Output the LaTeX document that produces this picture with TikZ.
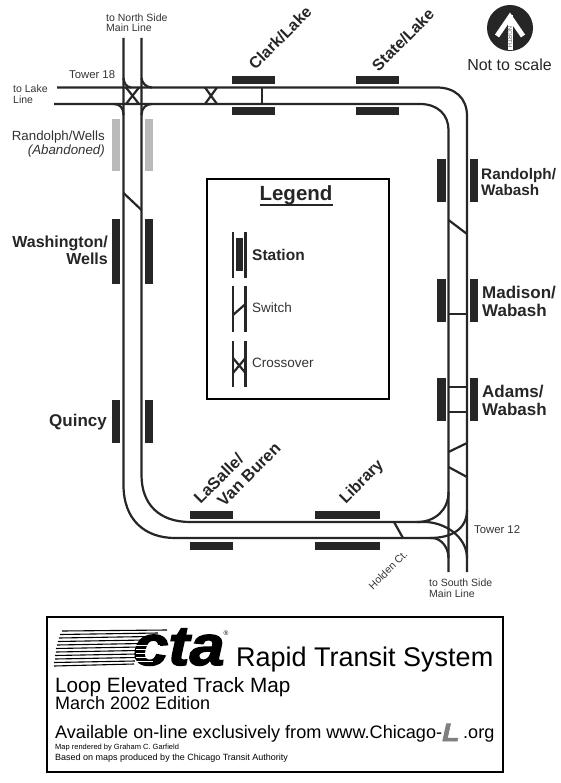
\documentclass[tikz,border=0pt]{standalone}
\usepackage{fontspec}
\setmainfont{Liberation Sans}
\newfontfamily\ctafont[FakeBold=2.5, FakeStretch=1.13]{Liberation Sans Bold Italic}
\tikzset{
  track/.style={line width=2.2pt, black!85},
  frame/.style={draw=black, line width=2pt},
  stationh/.style={fill=black!85, minimum width=43pt, minimum height=8pt, inner sep=0pt},
  stationv/.style={fill=black!85, minimum width=8.5pt, minimum height=43pt, inner sep=0pt},
  abandoned/.style={fill=black!27, minimum width=8.5pt, minimum height=52pt, inner sep=0pt},
  stopname/.style={font=\fontsize{16}{18}\selectfont\bfseries, text=black!85, inner sep=0pt, align=left},
  slanted/.style={stopname, rotate=45, align=center},
  smalltext/.style={font=\fontsize{10.5}{10.5}\selectfont, text=black!80, inner sep=0pt, align=left},
  towertext/.style={smalltext, font=\fontsize{11.3}{12}\selectfont, anchor=west}
}
\begin{document}
\begin{tikzpicture}[x=1pt, y=-1pt]
  \useasboundingbox (0,0) rectangle (561,783);

  % Vias del Loop
  \draw[track] (123.5,38) -- (123.5,485) .. controls (123.5,520) and (145,538) .. (175,538) -- (433,538);
  \draw[track] (141.5,38) -- (141.5,475) .. controls (141.5,505) and (160,522) .. (190,522) -- (427,522);
  \draw[track] (54,104) -- (420,104) .. controls (438,104) and (448.5,115) .. (448.5,130) -- (448.5,572);
  \draw[track] (57,87.5) -- (437,87.5) .. controls (455,87.5) and (467,98) .. (467,116) -- (467,572);

  % Torre 18
  \draw[track] (123.5,78) .. controls (124,83) and (126,87) .. (131,87.5);
  \draw[track] (141.5,78) .. controls (142,83) and (146,87.5) .. (152,87.5);
  \draw[track] (114,104) .. controls (120,104) and (123.5,108) .. (123.5,115);
  \draw[track] (152,104) .. controls (146,104) and (141.5,108) .. (141.5,115);
  \draw[track] (126,104) -- (139,87.5);
  \draw[track] (126,87.5) -- (139,104);

  % Torre 12
  \draw[track] (417,522) .. controls (435,522) and (448.5,510) .. (448.5,492);
  \draw[track] (427,522) .. controls (450,524) and (467,540) .. (467,558);
  \draw[track] (430,538) .. controls (450,538) and (467,530) .. (467,510);
  \draw[track] (433,538) .. controls (442,539) and (448.5,548) .. (448.5,558);

  % Cambios y cruces
  \draw[track] (205,87.5) -- (217,104);
  \draw[track] (217,87.5) -- (205,104);
  \draw[track] (262,87.5) -- (262,104);
  \draw[track] (123.5,193) -- (141.5,210);
  \draw[track] (448.5,220) -- (467,234);
  \draw[track] (448.5,314) -- (467,314);
  \draw[track] (448.5,387) -- (467,387);
  \draw[track] (448.5,412) -- (467,412);
  \draw[track] (448.5,452) -- (467,443);
  \draw[track] (448.5,467) -- (467,477);
  \draw[track] (394,522) -- (403,538);

  % Estaciones
  \node[stationh] (clarkN) at (253.5,80) {};
  \node[stationh] (clarkS) at (253.5,111) {};
  \node[stationh] (stateN) at (377,80) {};
  \node[stationh] (stateS) at (377,111) {};
  \node[abandoned] (randolphW) at (116,145) {};
  \node[abandoned] (randolphE) at (149,145) {};
  \node[stationv, minimum height=65pt] (washingtonW) at (116,251.5) {};
  \node[stationv, minimum height=65pt] (washingtonE) at (149,251.5) {};
  \node[stationv] (quincyW) at (116,421) {};
  \node[stationv] (quincyE) at (149,421) {};
  \node[stationh] (lasalleN) at (211.5,515) {};
  \node[stationh] (lasalleS) at (211.5,546) {};
  \node[stationh, minimum width=65pt] (libraryN) at (347.5,515) {};
  \node[stationh, minimum width=65pt] (libraryS) at (347.5,546) {};
  \node[stationv] (adamsW) at (441.5,399.5) {};
  \node[stationv] (adamsE) at (474,399.5) {};
  \node[stationv] (madisonW) at (441.5,300.5) {};
  \node[stationv] (madisonE) at (474,300.5) {};
  \node[stationv] (wabashW) at (441.5,181) {};
  \node[stationv] (wabashE) at (474,181) {};

  % Nombres
  \node[slanted] (clarkname) at (280,38) {Clark/Lake};
  \node[slanted] (statename) at (403,40) {State/Lake};
  \node[slanted, align=left, font=\fontsize{16.5}{18.4}\selectfont\bfseries] (lasallename) at (237,473) {LaSalle/\\\hspace*{15pt}Van Buren};
  \node[slanted] (libraryname) at (362,482) {Library};
  \node[stopname, anchor=east, align=right, font=\fontsize{16}{17}\selectfont\bfseries] (washingtonname) at (108,250) {Washington/\\Wells};
  \node[stopname, anchor=base east, font=\fontsize{17}{18}\selectfont\bfseries] (quincyname) at (107,426) {Quincy};
  \node[stopname, anchor=west, font=\fontsize{15.3}{15.5}\selectfont\bfseries] (wabashname) at (481,182) {Randolph/\\Wabash};
  \node[stopname, anchor=west, font=\fontsize{17}{18}\selectfont\bfseries] (madisonname) at (482,301) {Madison/\\Wabash};
  \node[stopname, anchor=west, font=\fontsize{17}{18}\selectfont\bfseries] (adamsname) at (482,400) {Adams/\\Wabash};
  \node[smalltext, font=\fontsize{13.3}{14.5}\selectfont, align=right, anchor=east] (abandonedname) at (105,144) {Randolph/Wells\\\textit{(Abandoned)}};

  % Rotulos pequenos
  \node[smalltext, anchor=west] (northlabel) at (106,23) {to North Side\\Main Line};
  \node[smalltext, anchor=west, font=\fontsize{10.5}{11.5}\selectfont] (lakelabel) at (13,94) {to Lake\\Line};
  \node[towertext] (tower18) at (69,75) {Tower 18};
  \node[towertext] (tower12) at (474,530) {Tower 12};
  \node[smalltext, anchor=west] (southlabel) at (429,588) {to South Side\\Main Line};
  \node[smalltext, rotate=45] (holden) at (388,570) {Holden Ct.};

  % Norte
  \node[circle, fill=black!85, minimum size=46pt, inner sep=0pt] (compass) at (510,28) {};
  \draw[white, line width=5pt] (497,36) -- (510,17) -- (523,36);
  \draw[white, line width=5pt] (510,15) -- (510,50.5);
  \node[rotate=-90, font=\fontsize{6}{6}\selectfont, text=black!60, inner sep=0pt] (northword) at (510,37) {NORTH};
  \node[font=\fontsize{16}{17}\selectfont, text=black!85, inner sep=0pt] (scale) at (509.5,65) {Not to scale};

  % Leyenda
  \node[frame, minimum width=182pt, minimum height=220pt, inner sep=0pt] (legend) at (298,289) {};
  \node[font=\fontsize{20.5}{22}\selectfont\bfseries, text=black!85, inner sep=0pt] (legendtitle) at (296,195) {Legend};
  \draw[black!85, line width=1.5pt] (259.5,205) -- (332.5,205);
  \draw[track] (233,232) -- (233,278);
  \draw[track] (245.5,232) -- (245.5,278);
  \node[fill=black!85, minimum width=7.5pt, minimum height=33pt, inner sep=0pt] (legendstation) at (239.7,254.5) {};
  \node[stopname, font=\fontsize{15.5}{17}\selectfont\bfseries, anchor=west] (stationtext) at (252,255) {Station};
  \draw[track] (233,286) -- (233,332);
  \draw[track] (245.5,286) -- (245.5,332);
  \draw[track] (233,315) -- (245.5,304);
  \node[smalltext, font=\fontsize{13.5}{15}\selectfont, anchor=west] (switchtext) at (252,308) {Switch};
  \draw[track] (233,341) -- (233,387);
  \draw[track] (245.5,341) -- (245.5,387);
  \draw[track] (233,358) -- (245.5,373);
  \draw[track] (245.5,358) -- (233,373);
  \node[smalltext, font=\fontsize{13.5}{15}\selectfont, anchor=west] (crossovertext) at (252,363) {Crossover};

  % Recuadro inferior
  \node[frame, minimum width=456pt, minimum height=155pt, inner sep=0pt] (titlebox) at (275,694.5) {};
  \node[font=\fontsize{56}{56}\ctafont, inner sep=0pt, anchor=base west] (ctalogo) at (133,665) {cta};
  \foreach \ya/\yb/\xa/\xb in {631/630/62/167,634.5/633/60/158,638/636.5/59/150,641.5/640/58/145,645/643.5/57/142,648.5/647/56/140,652/650.5/56/138,655.5/654/55/137,659/657.5/55/136,662.5/661/54/135,666/664/54/134}
    \draw[black, line width=1.1pt] (\xa,\ya) -- (\xb,\yb);
  \foreach \y/\x in {645/160,649/157,653/155,657/154,661/153}
    \draw[white, line width=1pt] (136,\y) -- (\x,\y);
  \node[font=\fontsize{6.5}{6.5}\selectfont, inner sep=0pt] (registered) at (226,633) {®};
  \node[font=\fontsize{27}{28}\selectfont, inner sep=0pt, anchor=base west] (rapid) at (236,666) {Rapid Transit System};
  \node[font=\fontsize{20.7}{22}\selectfont, inner sep=0pt, anchor=base west] (loopmap) at (55,692) {Loop Elevated Track Map};
  \node[font=\fontsize{18}{18}\selectfont, inner sep=0pt, anchor=base west] (edition) at (55,709) {March 2002 Edition};
  \node[font=\fontsize{18.1}{20}\selectfont, inner sep=0pt, anchor=base west] (online) at (55,738) {Available on-line exclusively from www.Chicago-};
  \node[font=\fontsize{25}{25}\ctafont, text=black!50, inner sep=0pt, anchor=base west] (llogo) at (442,741) {L};
  \node[font=\fontsize{18.1}{20}\selectfont, inner sep=0pt, anchor=base west] (orgtext) at (463,738) {.org};
  \node[smalltext, font=\fontsize{7.5}{9}\selectfont, text=black, anchor=base west] (rendered) at (55,749) {Map rendered by Graham C. Garfield};
  \node[smalltext, font=\fontsize{9}{9}\selectfont, text=black, anchor=base west] (based) at (55,760) {Based on maps produced by the Chicago Transit Authority};
\end{tikzpicture}
\end{document}
